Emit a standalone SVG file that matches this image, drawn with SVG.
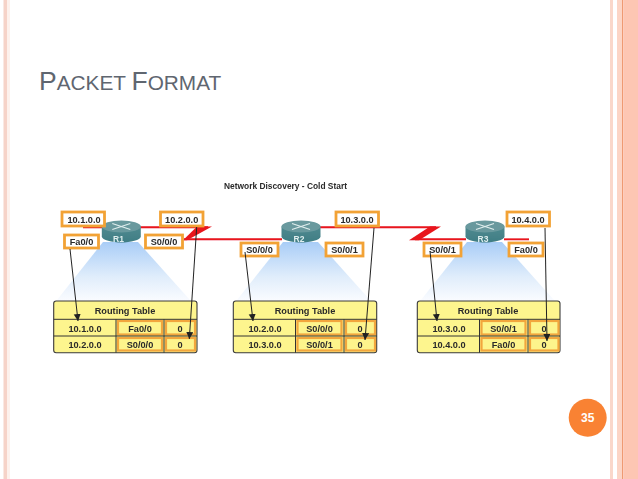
<svg xmlns="http://www.w3.org/2000/svg" width="638" height="479" viewBox="0 0 638 479">
<style>
.t{font-family:"Liberation Sans",Arial,sans-serif;font-weight:bold;font-size:9.2px;fill:#2a2a2a;text-anchor:middle}
.lb{fill:#fff;stroke:#f2a236;stroke-width:2.8}
.cell{fill:#fdf48c;stroke:#f2a63c;stroke-width:2.2}
.tb{fill:#fdf58e;stroke:#3a3a3a;stroke-width:1.1}
.dv{stroke:#333;stroke-width:1;fill:none}
.red{stroke:#e8141c;stroke-width:1.9;fill:none}
.z{fill:#e8141c}
.ar{stroke:#222;stroke-width:1;fill:none;marker-end:url(#ah)}
.rt{fill:#dfeeee;font-family:"Liberation Sans",Arial,sans-serif;font-weight:bold;font-size:8.5px;text-anchor:middle}
</style>
<defs>
<marker id="ah" markerUnits="userSpaceOnUse" markerWidth="8" markerHeight="8" refX="7" refY="3.5" orient="auto"><path d="M0 0L7 3.5L0 7Z" fill="#222"/></marker>
<linearGradient id="cone" x1="0" y1="0" x2="0" y2="1"><stop offset="0" stop-color="#a9cdf7"/><stop offset="0.6" stop-color="#e0edfb"/><stop offset="1" stop-color="#f9fbff"/></linearGradient>
<linearGradient id="rb" x1="0" y1="0" x2="0" y2="1"><stop offset="0" stop-color="#4f8a90"/><stop offset="1" stop-color="#3f7d84"/></linearGradient>
<filter id="soft" x="-5%" y="-5%" width="110%" height="110%"><feGaussianBlur stdDeviation="0.4"/></filter>
<g id="router"><path d="M-19.5 -5V5C-19.5 8.500 -9 11 0 11S19.500 8.500 19.500 5V-5Z" fill="url(#rb)"/><ellipse cx="0" cy="-5" rx="19.5" ry="6" fill="#69999e"/><path d="M-9 -8L9 -2M-9 -2L9 -8" stroke="#dfeeee" stroke-width="1.2"/></g>
</defs>
<rect width="638" height="479" fill="#fff"/>
<g id="frame">
<rect x="3.5" y="0" width="3.5" height="479" fill="#f6d3c8"/>
<rect x="7" y="0" width="3" height="479" fill="#fdf1ec"/>
<rect x="610" y="0" width="3" height="479" fill="#fad7ca"/>
<rect x="617" y="0" width="5" height="479" fill="#fcd5c6"/>
<rect x="622" y="0" width="1.2" height="479" fill="#ef9a72"/>
<rect x="623.2" y="0" width="14.8" height="479" fill="#fdc6b3"/>
</g>
<text id="title" x="39" y="90" font-family="'Liberation Sans',Arial,sans-serif" fill="#5f6670"><tspan font-size="26.500">P</tspan><tspan font-size="20.800">ACKET </tspan><tspan font-size="26.500">F</tspan><tspan font-size="20.800">ORMAT</tspan></text>
<g id="badge"><circle cx="587.7" cy="417.7" r="19" fill="#f98233"/><text x="587.7" y="422" font-family="'Liberation Sans',Arial,sans-serif" font-size="12" font-weight="bold" fill="#fff" text-anchor="middle">35</text></g>
<g filter="url(#soft)">
<text id="heading" class="t" x="285.5" y="189" style="font-size:8.4px">Network Discovery - Cold Start</text>
<g id="cones">
<path d="M103 242H138L190 300H57Z" fill="url(#cone)"/>
<path d="M283 242H318L370 300H237Z" fill="url(#cone)"/>
<path d="M467 242H502L554 300H421Z" fill="url(#cone)"/>
</g>
<g id="links">
<path class="red" d="M83 227.3H208M184 239.3H282"/>
<path class="z" d="M197 226.4H212L187 240.200H183Z"/>
<path class="red" d="M320 227.3H436M415 239.3H466"/>
<path class="z" d="M430 226.4H441L419 240.200H409Z"/>
<path class="red" d="M504 239.3H529"/>
</g>
<g id="r1"><use href="#router" x="121.3" y="231.5"/><text class="rt" x="118.500" y="242">R1</text></g>
<g id="r2"><use href="#router" x="301" y="231.5"/><text class="rt" x="299" y="242">R2</text></g>
<g id="r3"><use href="#router" x="485" y="231.5"/><text class="rt" x="483" y="242">R3</text></g>
<g id="labels">
<rect class="lb" x="62" y="212" width="42.5" height="14"/><text class="t" x="84" y="222.500">10.1.0.0</text>
<rect class="lb" x="160.5" y="212" width="42.5" height="14"/><text class="t" x="181.700" y="222.500">10.2.0.0</text>
<rect class="lb" x="64.5" y="235" width="34" height="13"/><text class="t" x="81.500" y="245">Fa0/0</text>
<rect class="lb" x="145.5" y="235" width="37" height="13"/><text class="t" x="164" y="245">S0/0/0</text>
<rect class="lb" x="241" y="243" width="37" height="13"/><text class="t" x="259.500" y="253">S0/0/0</text>
<rect class="lb" x="336" y="212" width="42.5" height="14"/><text class="t" x="357" y="222.500">10.3.0.0</text>
<rect class="lb" x="326" y="243" width="37" height="13"/><text class="t" x="344.500" y="253">S0/0/1</text>
<rect class="lb" x="424" y="243" width="37" height="13"/><text class="t" x="442.500" y="253">S0/0/1</text>
<rect class="lb" x="507" y="212" width="42.5" height="14"/><text class="t" x="528" y="222.500">10.4.0.0</text>
<rect class="lb" x="509" y="243" width="34" height="13"/><text class="t" x="526" y="253">Fa0/0</text>
</g>
<g id="table1">
<rect class="tb" x="53.7" y="301" width="143.3" height="51.7" rx="2.5"/>
<rect class="cell" x="118" y="321" width="44" height="13.500"/><rect class="cell" x="118" y="338" width="44" height="12.500"/>
<rect class="cell" x="166" y="321" width="29" height="13.500"/><rect class="cell" x="166" y="338" width="29" height="12.500"/>
<path class="dv" d="M53.7 319.3H197M53.7 336H197M116 319.3V352.7M164 319.3V352.7"/>
<text class="t" x="125" y="314">Routing Table</text>
<text class="t" x="85" y="331.500">10.1.0.0</text><text class="t" x="140" y="331.500">Fa0/0</text><text class="t" x="180" y="331.500">0</text>
<text class="t" x="85" y="348">10.2.0.0</text><text class="t" x="140" y="348">S0/0/0</text><text class="t" x="180" y="348">0</text>
</g>
<g id="table2">
<rect class="tb" x="233.3" y="301" width="143.4" height="51.7" rx="2.5"/>
<rect class="cell" x="297.5" y="321" width="44" height="13.500"/><rect class="cell" x="297.5" y="338" width="44" height="12.500"/>
<rect class="cell" x="346" y="321" width="29" height="13.500"/><rect class="cell" x="346" y="338" width="29" height="12.500"/>
<path class="dv" d="M233.3 319.3H376.7M233.3 336H376.7M295.5 319.3V352.7M344 319.3V352.7"/>
<text class="t" x="305" y="314">Routing Table</text>
<text class="t" x="265" y="331.500">10.2.0.0</text><text class="t" x="319.500" y="331.500">S0/0/0</text><text class="t" x="360" y="331.500">0</text>
<text class="t" x="265" y="348">10.3.0.0</text><text class="t" x="319.500" y="348">S0/0/1</text><text class="t" x="360" y="348">0</text>
</g>
<g id="table3">
<rect class="tb" x="417.3" y="301" width="142.7" height="51.7" rx="2.5"/>
<rect class="cell" x="481.5" y="321" width="44" height="13.500"/><rect class="cell" x="481.5" y="338" width="44" height="12.500"/>
<rect class="cell" x="530" y="321" width="28.5" height="13.500"/><rect class="cell" x="530" y="338" width="28.5" height="12.500"/>
<path class="dv" d="M417.3 319.3H560M417.3 336H560M479.5 319.3V352.700M528 319.3V352.700"/>
<text class="t" x="488" y="314">Routing Table</text>
<text class="t" x="449" y="331.500">10.3.0.0</text><text class="t" x="503.500" y="331.500">S0/0/1</text><text class="t" x="544" y="331.500">0</text>
<text class="t" x="449" y="348">10.4.0.0</text><text class="t" x="503.500" y="348">Fa0/0</text><text class="t" x="544" y="348">0</text>
</g>
<g id="connectors">
<path class="ar" d="M70 249L78 321"/>
<path class="ar" d="M196.700 227L189.300 339"/>
<path class="ar" d="M245 252L253 321"/>
<path class="ar" d="M374 228L365 340"/>
<path class="ar" d="M430 251L437 321"/>
<path class="ar" d="M545 228L547 341"/>
</g>
</g>
</svg>
